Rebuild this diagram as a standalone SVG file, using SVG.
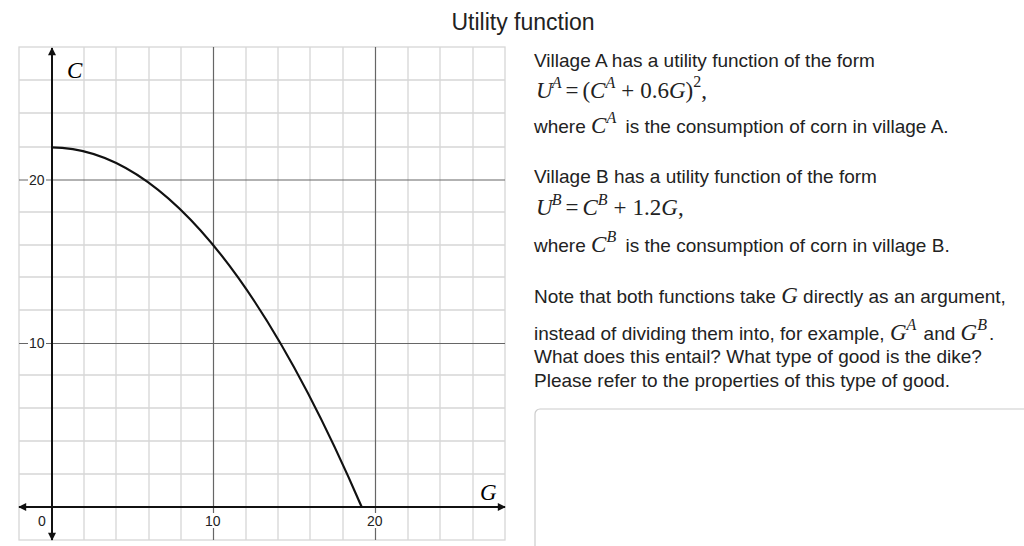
<svg xmlns="http://www.w3.org/2000/svg" width="1024" height="546" viewBox="0 0 1024 546">
<style>
.t{font-family:"Liberation Sans",Arial,sans-serif;font-size:19px;fill:#222}
.m{font-family:"Liberation Serif","Times New Roman",serif;font-size:23px}
.i{font-style:italic}
.s{font-size:16px}
.g{stroke:#d6d6d6;stroke-width:1.3}
.d{stroke:#666;stroke-width:1.2}
.lab{font-family:"Liberation Sans",Arial,sans-serif;font-size:14px;fill:#222}
</style>
<defs>
<marker id="ar" viewBox="0 0 10 10" refX="9" refY="5" markerWidth="10" markerHeight="8" markerUnits="userSpaceOnUse" orient="auto"><path d="M0,0L10,5L0,10z" fill="#111"/></marker>
</defs>
<rect width="1024" height="546" fill="#fff"/>
<g id="grid">
<rect x="19" y="47" width="486" height="493" fill="none" class="g"/>
<g class="g">
<path d="M84,47V540M116,47V540M149,47V540M181,47V540M246,47V540M278,47V540M310,47V540M343,47V540M408,47V540M440,47V540M473,47V540"/>
<path d="M19,80H505M19,113H505M19,147H505M19,212H505M19,245H505M19,277H505M19,310H505M19,375H505M19,408H505M19,441H505M19,474H505"/>
</g>
<path class="d" d="M213.5,47V540M375.5,47V540M19,180H505M19,343.5H505"/>
</g>
<g id="axes" stroke="#111" stroke-width="2">
<line x1="52" y1="507" x2="52" y2="48" marker-end="url(#ar)"/>
<line x1="52" y1="507" x2="52" y2="540" marker-end="url(#ar)"/>
<line x1="52" y1="507" x2="505" y2="507" marker-end="url(#ar)"/>
<line x1="52" y1="507" x2="19" y2="507" marker-end="url(#ar)"/>
</g>
<g id="labels">
<rect x="28" y="173" width="18" height="14" fill="#fff"/><text class="lab" x="29" y="185">20</text>
<rect x="28" y="337" width="18" height="14" fill="#fff"/><text class="lab" x="29" y="348">10</text>
<text class="lab" x="38" y="526">0</text>
<rect x="205" y="513" width="18" height="15" fill="#fff"/><text class="lab" x="205" y="526">10</text>
<rect x="367" y="513" width="18" height="15" fill="#fff"/><text class="lab" x="367" y="526">20</text>
<text class="m i" x="67" y="78">C</text>
<text class="m i" x="480" y="500">G</text>
</g>
<g id="curve"><path d="M51.5,147.3Q206.6,147.3 361.7,507" fill="none" stroke="#111" stroke-width="2.2"/></g>
<text x="523" y="30" text-anchor="middle" style="font-family:'Liberation Sans',Arial,sans-serif;font-size:23px;fill:#222">Utility function</text>
<g id="text">
<text class="t" x="534" y="67">Village A has a utility function of the form</text>
<text class="t" x="536" y="98"><tspan class="m i">U</tspan><tspan class="m i s" dx="-1" dy="-10">A</tspan><tspan class="m" dx="4" dy="10">=</tspan><tspan class="m" dx="4">(</tspan><tspan class="m i">C</tspan><tspan class="m i s" dx="0" dy="-10">A</tspan><tspan class="m" dx="6" dy="10">+</tspan><tspan class="m" dx="6">0.6</tspan><tspan class="m i">G</tspan><tspan class="m">)</tspan><tspan class="m s" dy="-11">2</tspan><tspan class="m" dy="11">,</tspan></text>
<text class="t" x="534" y="133">where <tspan class="m i">C</tspan><tspan class="m i s" dx="0" dy="-10">A</tspan><tspan dx="4" dy="10"> is the consumption of corn in village A.</tspan></text>
<text class="t" x="534" y="183">Village B has a utility function of the form</text>
<text class="t" x="536" y="215"><tspan class="m i">U</tspan><tspan class="m i s" dx="-1" dy="-10">B</tspan><tspan class="m" dx="4" dy="10">=</tspan><tspan class="m i" dx="4">C</tspan><tspan class="m i s" dx="0" dy="-10">B</tspan><tspan class="m" dx="6" dy="10">+</tspan><tspan class="m" dx="6">1.2</tspan><tspan class="m i">G</tspan><tspan class="m">,</tspan></text>
<text class="t" x="534" y="252">where <tspan class="m i">C</tspan><tspan class="m i s" dx="0" dy="-10">B</tspan><tspan dx="4" dy="10"> is the consumption of corn in village B.</tspan></text>
<text class="t" x="534" y="303">Note that both functions take <tspan class="m i">G</tspan> directly as an argument,</text>
<text class="t" x="534" y="340">instead of dividing them into, for example, <tspan class="m i">G</tspan><tspan class="m i s" dx="0" dy="-10">A</tspan><tspan dx="2" dy="10"> and </tspan><tspan class="m i">G</tspan><tspan class="m i s" dx="0" dy="-10">B</tspan><tspan dx="2" dy="10">.</tspan></text>
<text class="t" x="534" y="363">What does this entail? What type of good is the dike?</text>
<text class="t" x="534" y="387">Please refer to the properties of this type of good.</text>
</g>
<rect id="answer" x="535" y="409" width="520" height="160" rx="5" fill="#fff" stroke="#ccc" stroke-width="1.2"/>
</svg>
